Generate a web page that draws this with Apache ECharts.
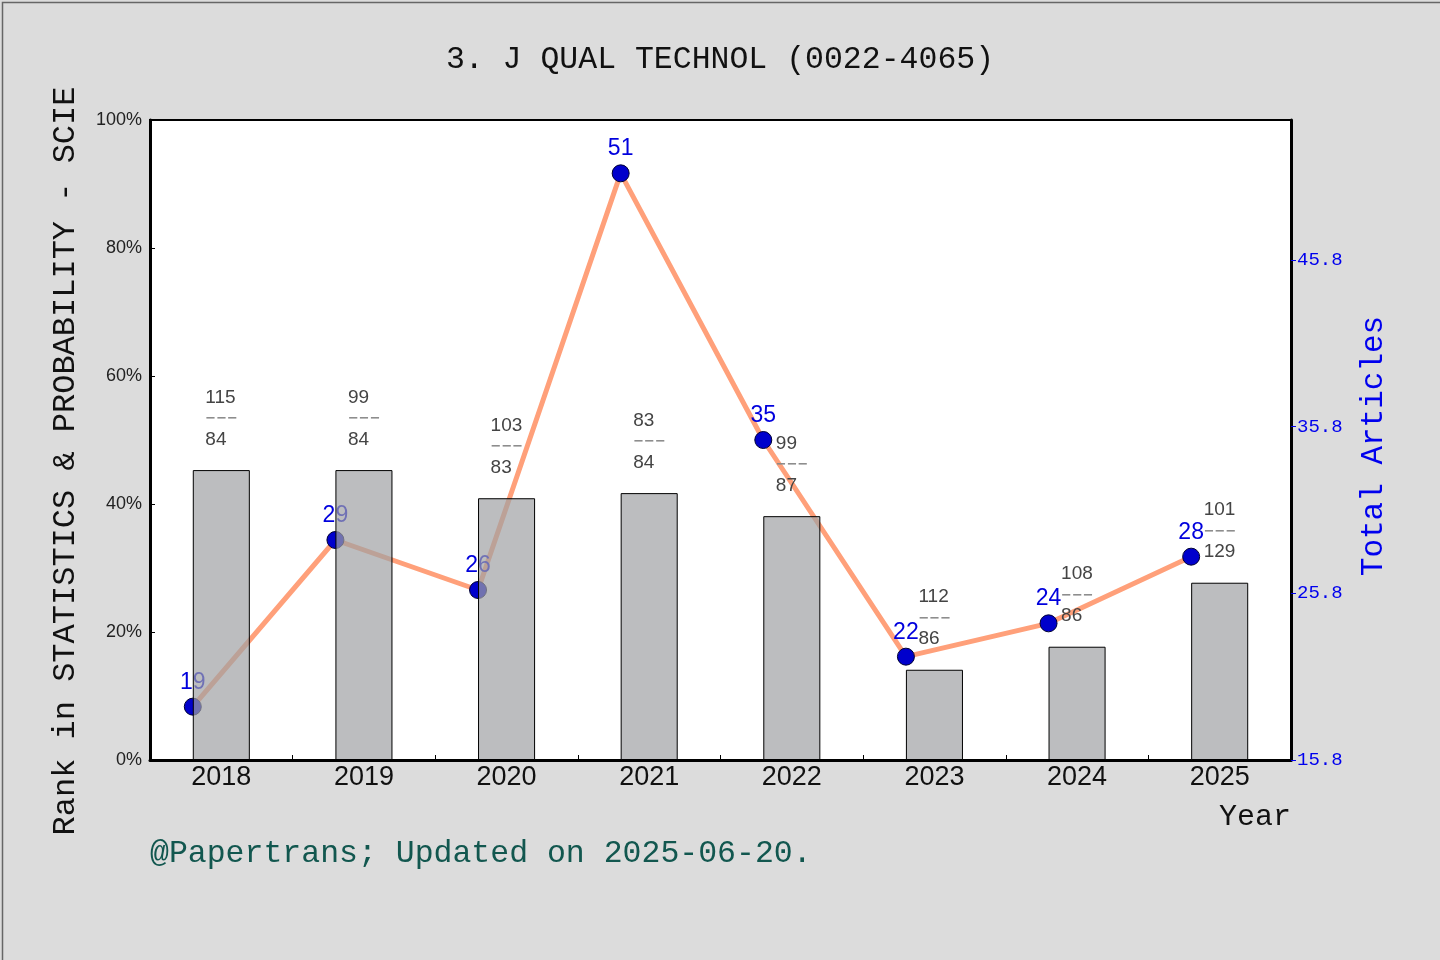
<!DOCTYPE html>
<html>
<head>
<meta charset="utf-8">
<script src="https://cdn.jsdelivr.net/npm/echarts@6/dist/echarts.min.js"></script>
<style>html,body{margin:0;padding:0;background:#dcdcdc;}#c{width:1440px;height:960px;}</style>
</head>
<body>
<div id="c"></div>
<script>
const years = ['2018', '2019', '2020', '2021', '2022', '2023', '2024', '2025'];
const rankPct = [45.3, 45.3, 40.9, 41.7, 38.1, 14.1, 17.7, 27.7];
const rankTop = [115, 99, 103, 83, 99, 112, 108, 101];
const rankBottom = [84, 84, 83, 84, 87, 86, 86, 129];
const totalArticles = [19, 29, 26, 51, 35, 22, 24, 28];
const rightTicks = [15.8, 25.8, 35.8, 45.8];

const mono = 'Liberation Mono';
const sans = 'Liberation Sans';

const chart = echarts.init(document.getElementById('c'));
chart.setOption({
  backgroundColor: '#dcdcdc',
  animation: false,
  title: {
    text: '3. J QUAL TECHNOL (0022-4065)',
    left: 'center',
    top: 39,
    textStyle: { fontFamily: mono, fontSize: 31.5, fontWeight: 'normal', color: '#111' }
  },
  grid: {
    left: 150, right: 149, top: 120, bottom: 200,
    show: true, backgroundColor: '#fff', borderColor: '#000', borderWidth: 2
  },
  xAxis: [
    {
      type: 'category',
      data: years,
      boundaryGap: true,
      name: 'Year',
      nameLocation: 'end',
      nameGap: 0,
      nameTextStyle: { fontFamily: mono, fontSize: 30, color: '#111', align: 'right', verticalAlign: 'top', padding: [42, 0, 0, 0] },
      axisLine: { onZero: false, lineStyle: { color: '#000', width: 3 } },
      axisTick: { show: true, inside: true, length: 5, alignWithLabel: false, lineStyle: { color: '#000', width: 1 } },
      axisLabel: { fontFamily: sans, fontSize: 27, color: '#111', margin: 4 },
      splitLine: { show: false }
    },
    {
      type: 'value',
      min: -0.5, max: 7.5,
      show: false,
      position: 'bottom',
      axisLine: { onZero: false }
    }
  ],
  yAxis: [
    {
      type: 'value',
      min: 0, max: 100, interval: 20,
      position: 'left',
      name: 'Rank in STATISTICS & PROBABILITY - SCIE',
      nameLocation: 'middle',
      nameRotate: 90,
      nameGap: 68,
      nameTextStyle: { fontFamily: mono, fontSize: 32, color: '#111', padding: [0, 42, 0, 0] },
      axisLine: { show: true, onZero: false, lineStyle: { color: '#000', width: 3 } },
      axisTick: { show: true, inside: true, length: 5, lineStyle: { color: '#000' } },
      axisLabel: { fontFamily: sans, fontSize: 18, color: '#222', margin: 8, formatter: '{value}%' },
      splitLine: { show: false }
    },
    {
      type: 'value',
      min: rightTicks[0], max: 54.2, interval: 10,
      position: 'right',
      name: 'Total Articles',
      nameLocation: 'middle',
      nameRotate: 90,
      nameGap: 67,
      nameTextStyle: { fontFamily: mono, fontSize: 31, color: '#0000ee', padding: [0, 12, 0, 0] },
      axisLine: { show: true, onZero: false, lineStyle: { color: '#000', width: 3 } },
      axisTick: { show: true, inside: false, length: 5, lineStyle: { color: '#0000ee' } },
      axisLabel: { fontFamily: mono, fontSize: 19, color: '#0000ee', margin: 6, showMaxLabel: false,
        formatter: v => v.toFixed(1) },
      splitLine: { show: false }
    }
  ],
  series: [
    {
      type: 'bar',
      xAxisIndex: 0, yAxisIndex: 0,
      z: 3,
      barWidth: '40%',
      data: rankPct,
      itemStyle: { color: 'rgba(160,161,164,0.7)', borderColor: '#000', borderWidth: 1 },
      label: {
        show: true,
        position: 'top',
        distance: 20,
        align: 'left',
        offset: [-16, 0],
        formatter: p => '{n|' + rankTop[p.dataIndex] + '}\n{d|−−−}\n{n|' + rankBottom[p.dataIndex] + '}',
        rich: {
          n: { fontFamily: sans, fontSize: 19, color: '#444', lineHeight: 21 },
          d: { fontFamily: 'DejaVu Sans', fontWeight: 'bold', fontSize: 13, color: '#888', lineHeight: 21 }
        }
      }
    },
    {
      type: 'line',
      xAxisIndex: 1, yAxisIndex: 1,
      z: 2,
      data: totalArticles.map((v, i) => [i - 0.2, v]),
      lineStyle: { color: '#ffa07a', width: 5 },
      symbol: 'circle',
      symbolSize: 17,
      itemStyle: { color: '#0000cc', borderColor: '#000033', borderWidth: 1 },
      label: {
        show: true, position: 'top', distance: 4,
        fontFamily: sans, fontSize: 23, color: '#0000dd',
        formatter: p => String(p.value[1])
      }
    }
  ],
  graphic: [
    {
      type: 'text', left: 150, top: 838,
      style: { text: '@Papertrans; Updated on 2025-06-20.', fontFamily: mono, fontSize: 31.5, fill: '#12574f' }
    },
    {
      type: 'rect', left: 0, top: 0, silent: true,
      shape: { x: 0, y: 0, width: 1439, height: 959 },
      style: { fill: 'none', stroke: '#666', lineWidth: 1.5 }
    }
  ]
});
</script>
</body>
</html>
